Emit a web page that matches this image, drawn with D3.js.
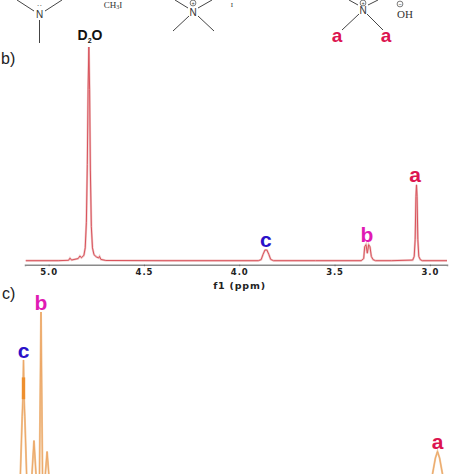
<!DOCTYPE html>
<html>
<head>
<meta charset="utf-8">
<script src="https://cdn.jsdelivr.net/npm/d3@7"></script>
<style>
  html, body { margin: 0; padding: 0; background: #fff; overflow: hidden; }
  svg { display: block; }
  text { font-family: "Liberation Sans", Arial, sans-serif; }
</style>
</head>
<body>
<svg id="chart" width="474" height="474"></svg>
<script>
// panel b spectrum
const ppmB = [5.12, 4.95, 4.895, 4.888, 4.88, 4.845, 4.836, 4.828, 4.815, 4.808, 4.802, 4.797, 4.793, 4.789, 4.785, 4.781, 4.776, 4.77, 4.762, 4.75, 4.738, 4.733, 4.726, 4.7, 4.4, 3.9, 3.885, 3.875, 3.865, 3.855, 3.845, 3.835, 3.82, 3.6, 3.36, 3.347, 3.342, 3.335, 3.328, 3.321, 3.314, 3.307, 3.298, 3.285, 3.2, 3.09, 3.082, 3.077, 3.073, 3.07, 3.067, 3.063, 3.058, 3.05, 3.04, 2.91];
const intB = [0, 0, 0.2, 1.2, 0.3, 1, 2.2, 1.4, 2.5, 6, 18, 45, 80, 100, 80, 42, 16, 6, 2.8, 1.8, 1.3, 2, 0.6, 0.1, 0, 0, 0.5, 3, 5, 5, 3, 0.6, 0, 0, 0, 1, 6.5, 7.5, 3.5, 7.5, 6.5, 2, 0.5, 0, 0, 0.3, 2, 10, 30, 35.5, 30, 10, 2, 0.5, 0, 0];
const tickPpm = [5, 4.5, 4, 3.5, 3];

// panel c spectrum runs off the bottom of the picture
const ppmC = [3.872, 3.866, 3.8625, 3.8612, 3.86, 3.8588, 3.8575, 3.854, 3.848, 3.844, 3.84, 3.836, 3.832, 3.8295, 3.8266, 3.8237, 3.821, 3.8185, 3.815, 3.8115, 3.806, 3.3, 3.082, 3.0795, 3.074, 3.07, 3.066, 3.0605, 3.058];
const intC = [0, 25, 52, 60, 78, 60, 52, 25, 0, 25, 41, 25, 0, 25, 100, 25, 0, 25, 36, 25, 0, 0, 15, 25.7, 33, 36, 33, 25.7, 15];
const bandPpm = [3.86, 3.86];
const bandInt = [60, 70];

const peakColors = { a: "#dc1450", b: "#e01ab4", c: "#2a10c8" };

const svg = d3.select("#chart");

const xB = d3.scaleLinear().domain([5.124, 2.91]).range([25, 447]);
const yB = d3.scaleLinear().domain([0, 100]).range([260.7, 47]);
const xC = d3.scaleLinear().domain([3.86, 3.07]).range([23.5, 437.5]);
const yC = d3.scaleLinear().domain([0, 100]).range([530, 312]);

const lineB = d3.line().x(i => xB(ppmB[i])).y(i => yB(intB[i]));
const lineC = d3.line().x(i => xC(ppmC[i])).y(i => yC(intC[i]));

// spectrum b
svg.append("path").attr("d", lineB(d3.range(ppmB.length)))
  .attr("fill", "none").attr("stroke", "#efc4c4").attr("stroke-width", 2.2);
svg.append("path").attr("d", lineB(d3.range(ppmB.length)))
  .attr("fill", "none").attr("stroke", "#d9535c").attr("stroke-width", 1);

// axis
const axis = svg.append("g")
  .attr("transform", "translate(0,264.7)")
  .call(d3.axisBottom(xB).tickValues(tickPpm).tickFormat(d3.format(".1f")).tickSize(1.5).tickPadding(3));
axis.select(".domain").attr("stroke", "#8a8a8a").attr("stroke-width", 1.5);
axis.selectAll(".tick line").attr("stroke", "#666");
axis.selectAll("text")
  .style("font-family", "'DejaVu Sans', sans-serif")
  .attr("font-size", 8.5).attr("font-weight", "bold").attr("fill", "#222")
  .attr("letter-spacing", 0.9);

svg.append("text").attr("x", 239.5).attr("y", 289)
  .style("font-family", "'DejaVu Sans', sans-serif")
  .attr("font-size", 9.5).attr("font-weight", "bold").attr("letter-spacing", 0.8)
  .attr("text-anchor", "middle").attr("fill", "#222").text("f1 (ppm)");

// spectrum c
svg.append("path").attr("d", lineC(d3.range(ppmC.length)))
  .attr("fill", "none").attr("stroke", "#f0c89c").attr("stroke-width", 2);
svg.append("path").attr("d", lineC(d3.range(ppmC.length)))
  .attr("fill", "none").attr("stroke", "#eda868").attr("stroke-width", 1);
svg.append("path").attr("d", d3.line().x(i => xC(bandPpm[i])).y(i => yC(bandInt[i]))(d3.range(2)))
  .attr("fill", "none").attr("stroke", "#ee8f2e").attr("stroke-width", 3.4);

// peak labels
function bigLabel(x, y, t, color, size) {
  svg.append("text").attr("x", x).attr("y", y).attr("text-anchor", "middle")
    .attr("font-size", size || 21).attr("font-weight", "bold").attr("fill", color).text(t);
}
bigLabel(xB(3.86), 247, "c", peakColors.c);
bigLabel(367, 241.5, "b", peakColors.b);
bigLabel(415, 181.5, "a", peakColors.a);
bigLabel(23.5, 358, "c", peakColors.c);
bigLabel(41, 310, "b", peakColors.b);
bigLabel(437.5, 449, "a", peakColors.a);
bigLabel(337, 42, "a", peakColors.a, 19);
bigLabel(386, 42, "a", peakColors.a, 19);

// D2O label
const d2o = svg.append("text").attr("x", 90).attr("y", 40).attr("text-anchor", "middle")
  .attr("font-size", 14).attr("font-weight", "bold").attr("fill", "#111");
d2o.append("tspan").text("D");
d2o.append("tspan").attr("font-size", 7).attr("dy", 3).text("2");
d2o.append("tspan").attr("dy", -3).text("O");

// panel letters
svg.append("text").attr("x", 1).attr("y", 64).attr("font-size", 16).attr("fill", "#222").text("b)");
svg.append("text").attr("x", 2).attr("y", 299).attr("font-size", 16).attr("fill", "#222").text("c)");

// reaction scheme, cut by the top of the picture
const bonds = [
  [17, 0, 34, 11], [62, 0, 45, 11], [39.5, 20, 39.5, 43],
  [175, 0, 188, 8], [212, 0, 198, 8], [189, 16, 173, 31], [198, 16, 214, 31],
  [349, 0, 358, 5], [378, 0, 368, 5], [359, 14, 342, 30], [367, 14, 383, 30]
];
svg.append("g").selectAll("line").data(bonds).enter().append("line")
  .attr("x1", d => d[0]).attr("y1", d => d[1]).attr("x2", d => d[2]).attr("y2", d => d[3])
  .attr("stroke", "#444").attr("stroke-width", 1);

function atom(x, y, t, size, family) {
  return svg.append("text").attr("x", x).attr("y", y).attr("text-anchor", "middle")
    .attr("font-size", size).attr("fill", "#333")
    .style("font-family", family || "'Liberation Serif', serif").text(t);
}
atom(39.5, 18, "N", 10, "'Liberation Sans', sans-serif");
atom(193, 16, "N", 10, "'Liberation Sans', sans-serif");
atom(363, 13.5, "N", 10, "'Liberation Sans', sans-serif");
atom(39.5, 8, "··", 8);

const ch3i = atom(113, 8, "CH", 9);
ch3i.append("tspan").attr("font-size", 6).attr("dy", 1).text("3");
ch3i.append("tspan").attr("dy", -1).text("I");

atom(232, 6.5, "I", 7);
atom(405, 18, "OH", 11);

// charge circles
const charges = [[193, 3, "+"], [363, 3, "+"], [400, 4, "−"]];
charges.forEach(c => {
  svg.append("circle").attr("cx", c[0]).attr("cy", c[1]).attr("r", 2.9)
    .attr("fill", "none").attr("stroke", "#444").attr("stroke-width", 0.7);
  atom(c[0], c[1] + 2, c[2], 5.5, "'Liberation Sans', sans-serif");
});
</script>
</body>
</html>
